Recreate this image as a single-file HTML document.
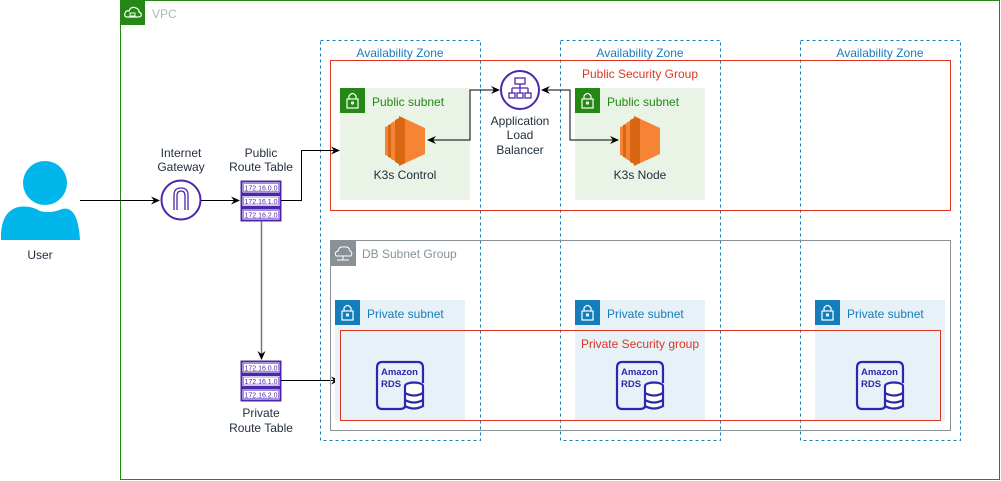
<!DOCTYPE html>
<html><head><meta charset="utf-8"><style>
html,body{margin:0;padding:0;background:#fff;width:1001px;height:481px;overflow:hidden}
text{font-family:"Liberation Sans",Arial,sans-serif;font-size:12px}
</style></head><body>
<svg width="1001" height="481" viewBox="0 0 1001 481" xmlns="http://www.w3.org/2000/svg">
<defs>
<marker id="a" markerWidth="10" markerHeight="10" refX="8" refY="5" orient="auto" markerUnits="userSpaceOnUse"><path d="M0,1 L9,5 L0,9 L3,5 Z" fill="#000"/></marker>
<marker id="as" markerWidth="10" markerHeight="10" refX="1" refY="5" orient="auto" markerUnits="userSpaceOnUse"><path d="M9,1 L0,5 L9,9 L6,5 Z" fill="#000"/></marker>
<g id="ec2">
<path d="M14,0 L40,12 L40,38 L14,50 Z" fill="#F58534"/>
<path d="M10,4 L14,2 L14,48 L10,46 Z" fill="#D86613"/>
<path d="M6,7 L10,5 L10,45 L6,43 Z" fill="#F58534"/>
<path d="M3,9 L6,8 L6,42 L3,41 Z" fill="#D86613"/>
<path d="M0,11 L3,10 L3,40 L0,39 Z" fill="#F58534"/>
<path d="M14,0 L20,3 L20,47 L14,50 Z" fill="#D86613"/>
</g>
<g id="rds" fill="none" stroke="#2E27AD" stroke-width="2.2">
<path d="M30,34 L30,42 Q30,48 24,48 L6,48 Q1,48 1,42 L1,7 Q1,1 6,1 L42,1 Q47,1 47,7 L47,22"/>
<text x="5" y="14" fill="#2E27AD" stroke="none" style="font-size:9.5px;font-weight:bold">Amazon</text>
<text x="5" y="26" fill="#2E27AD" stroke="none" style="font-size:9.5px;font-weight:bold">RDS</text>
<ellipse cx="38" cy="25" rx="9" ry="3.5" fill="#fff"/>
<path d="M29,25 L29,45 Q38,50 47,45 L47,25" fill="#fff"/>
<path d="M29,32 Q38,37 47,32 M29,39 Q38,44 47,39"/>
</g>
<g id="rt">
<rect x="0.5" y="0.5" width="39" height="12" fill="#fff" stroke="#4D27AA" stroke-width="2"/>
<rect x="0.5" y="14" width="39" height="12" fill="#fff" stroke="#4D27AA" stroke-width="2"/>
<rect x="0.5" y="27.5" width="39" height="12" fill="#fff" stroke="#4D27AA" stroke-width="2"/>
<rect x="2.5" y="2.5" width="35" height="8" fill="none" stroke="#8C6FD6" stroke-width="0.8"/>
<rect x="2.5" y="16" width="35" height="8" fill="none" stroke="#8C6FD6" stroke-width="0.8"/>
<rect x="2.5" y="29.5" width="35" height="8" fill="none" stroke="#8C6FD6" stroke-width="0.8"/>
<text x="20" y="9.5" text-anchor="middle" fill="#4D27AA" style="font-size:7px">172.16.0.0</text>
<text x="20" y="23" text-anchor="middle" fill="#4D27AA" style="font-size:7px">172.16.1.0</text>
<text x="20" y="36.5" text-anchor="middle" fill="#4D27AA" style="font-size:7px">172.16.2.0</text>
</g>
<g id="lock" fill="none" stroke="#fff" stroke-width="1.2">
<rect x="7" y="11" width="11" height="9"/><path d="M9,11 V8 Q12.5,3 16,8 V11"/><circle cx="12.5" cy="15" r="1"/>
</g>
</defs>

<rect x="120.5" y="0.5" width="879" height="479" fill="none" stroke="#248814"/>
<rect x="120" y="0" width="25" height="25" fill="#248814"/>
<path d="M127,17 Q124,17 125,13 Q126,10 129,11 Q131,6 136,8 Q139,9 139,12 Q142,13 141,16 Q140,17 138,17 Z" fill="none" stroke="#fff" stroke-width="1.2"/>
<rect x="130" y="13" width="5" height="3" fill="none" stroke="#fff" stroke-width="1"/>
<text x="152" y="18" fill="#AAB7B8">VPC</text>

<g fill="none" stroke="#147EBA" stroke-dasharray="3,3">
<rect x="320.5" y="40.5" width="160" height="400"/>
<rect x="560.5" y="40.5" width="160" height="400"/>
<rect x="800.5" y="40.5" width="160" height="400"/>
</g>
<g fill="#147EBA" text-anchor="middle">
<text x="400" y="57">Availability Zone</text>
<text x="640" y="57">Availability Zone</text>
<text x="880" y="57">Availability Zone</text>
</g>

<rect x="330.5" y="60.5" width="620" height="150" fill="none" stroke="#DD3522"/>
<text x="640" y="78" text-anchor="middle" fill="#DD3522">Public Security Group</text>

<rect x="340" y="88" width="130" height="112" fill="#E9F3E6"/>
<rect x="340" y="88" width="25" height="25" fill="#248814"/>
<use href="#lock" x="340" y="88"/>
<text x="372" y="106" fill="#248814">Public subnet</text>
<rect x="575" y="88" width="130" height="112" fill="#E9F3E6"/>
<rect x="575" y="88" width="25" height="25" fill="#248814"/>
<use href="#lock" x="575" y="88"/>
<text x="607" y="106" fill="#248814">Public subnet</text>

<use href="#ec2" x="385" y="116"/>
<text x="405" y="179" text-anchor="middle" fill="#232F3E">K3s Control</text>
<use href="#ec2" x="620" y="116"/>
<text x="640" y="179" text-anchor="middle" fill="#232F3E">K3s Node</text>

<circle cx="520" cy="90" r="19" fill="#fff" stroke="#4D27AA" stroke-width="2"/>
<g fill="none" stroke="#4D27AA" stroke-width="1.3">
<rect x="515" y="78" width="10" height="6"/>
<path d="M520,84 V88 M512,88 H528 M512,88 V93 M520,88 V93 M528,88 V93"/>
<rect x="509" y="93" width="6" height="5"/><rect x="517" y="93" width="6" height="5"/><rect x="525" y="93" width="6" height="5"/>
</g>
<g fill="#232F3E" text-anchor="middle">
<text x="520" y="125">Application</text>
<text x="520" y="139">Load</text>
<text x="520" y="154">Balancer</text>
</g>
<path d="M428,140 H470 V90 H499" fill="none" stroke="#000" marker-start="url(#as)" marker-end="url(#a)"/>
<path d="M542,90 H570 V140 H618" fill="none" stroke="#000" marker-start="url(#as)" marker-end="url(#a)"/>

<circle cx="45" cy="183" r="22" fill="#00B6EA"/>
<path d="M1,240 Q0,212 18,207 Q30,205 40,211 Q50,214 62,209 Q78,205 80,240 Z" fill="#00B6EA"/>
<text x="40" y="259" text-anchor="middle" fill="#232F3E">User</text>

<path d="M80,200.5 H159" stroke="#000" fill="none" marker-end="url(#a)"/>
<circle cx="181" cy="200" r="19.5" fill="#fff" stroke="#4D27AA" stroke-width="2"/>
<path d="M174,210 V195 Q174,188 181,188 Q188,188 188,195 V210 M177,210 V196 Q177,191 181,191 Q185,191 185,196 V210" fill="none" stroke="#4D27AA" stroke-width="1.3"/>
<text x="181" y="157" text-anchor="middle" fill="#232F3E">Internet</text>
<text x="181" y="171" text-anchor="middle" fill="#232F3E">Gateway</text>
<path d="M201,200.5 H239" stroke="#000" fill="none" marker-end="url(#a)"/>

<use href="#rt" x="241" y="181"/>
<text x="261" y="157" text-anchor="middle" fill="#232F3E">Public</text>
<text x="261" y="171" text-anchor="middle" fill="#232F3E">Route Table</text>
<path d="M281,200.5 H301.5 V150.5 H339" stroke="#000" fill="none" marker-end="url(#a)"/>
<path d="M261.5,221 V359" stroke="#777" stroke-width="1.5" fill="none" marker-end="url(#a)"/>

<use href="#rt" x="241" y="361"/>
<text x="261" y="417" text-anchor="middle" fill="#232F3E">Private</text>
<text x="261" y="432" text-anchor="middle" fill="#232F3E">Route Table</text>
<path d="M281,380.5 H339" stroke="#000" fill="none" marker-end="url(#a)"/>

<rect x="330.5" y="240.5" width="620" height="190" fill="none" stroke="#879196"/>
<rect x="331" y="241" width="25" height="25" fill="#879196"/>
<path d="M336,256 Q334,252 338,251 Q339,246 344,247 Q349,246 350,251 Q353,252 351,256 Z M343,256 V260 M337,260 H349" fill="none" stroke="#fff" stroke-width="1"/>
<text x="362" y="258" fill="#879196">DB Subnet Group</text>

<g>
<rect x="335" y="300" width="130" height="120" fill="#E6F2F8"/>
<rect x="335" y="300" width="25" height="25" fill="#147EBA"/><use href="#lock" x="335" y="300"/>
<text x="367" y="318" fill="#147EBA">Private subnet</text>
<rect x="575" y="300" width="130" height="120" fill="#E6F2F8"/>
<rect x="575" y="300" width="25" height="25" fill="#147EBA"/><use href="#lock" x="575" y="300"/>
<text x="607" y="318" fill="#147EBA">Private subnet</text>
<rect x="815" y="300" width="130" height="120" fill="#E6F2F8"/>
<rect x="815" y="300" width="25" height="25" fill="#147EBA"/><use href="#lock" x="815" y="300"/>
<text x="847" y="318" fill="#147EBA">Private subnet</text>
</g>
<rect x="340.5" y="330.5" width="600" height="90" fill="none" stroke="#DD3522"/>
<text x="640" y="348" text-anchor="middle" fill="#DD3522">Private Security group</text>

<use href="#rds" x="376" y="361"/>
<use href="#rds" x="616" y="361"/>
<use href="#rds" x="856" y="361"/>
</svg>
</body></html>
